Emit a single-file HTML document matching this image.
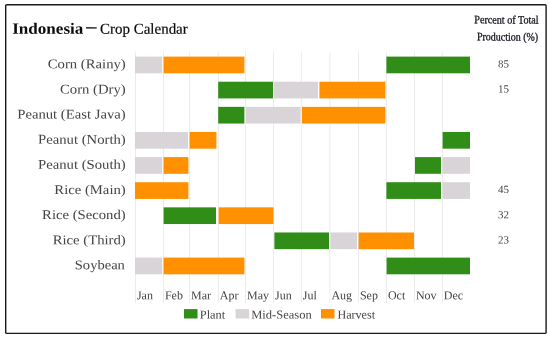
<!DOCTYPE html>
<html><head><meta charset="utf-8"><title>Indonesia - Crop Calendar</title>
<style>
html,body{margin:0;padding:0;background:#fff;}
body{width:550px;height:340px;overflow:hidden;position:relative;font-family:"Liberation Serif","Times New Roman",serif;}
svg{position:absolute;left:0;top:0;}
text{font-family:"Liberation Serif","Times New Roman",serif;}
</style></head><body>
<svg width="550" height="340" viewBox="0 0 550 340">
<rect x="0" y="0" width="550" height="340" fill="#fff"/>
<rect x="5.7" y="4.7" width="540.4" height="328.7" rx="1" fill="none" stroke="#1a1a1a" stroke-width="1.4"/>
<rect x="134.95" y="51.6" width="0.9" height="251.4" fill="#e9e9e9"/>
<rect x="162.95" y="51.6" width="0.9" height="251.4" fill="#e9e9e9"/>
<rect x="189.15" y="51.6" width="0.9" height="251.4" fill="#e9e9e9"/>
<rect x="217.85" y="51.6" width="0.9" height="251.4" fill="#e9e9e9"/>
<rect x="245.05" y="51.6" width="0.9" height="251.4" fill="#e9e9e9"/>
<rect x="273.15" y="51.6" width="0.9" height="251.4" fill="#e9e9e9"/>
<rect x="300.85" y="51.6" width="0.9" height="251.4" fill="#e9e9e9"/>
<rect x="329.45" y="51.6" width="0.9" height="251.4" fill="#e9e9e9"/>
<rect x="357.95" y="51.6" width="0.9" height="251.4" fill="#e9e9e9"/>
<rect x="385.95" y="51.6" width="0.9" height="251.4" fill="#e9e9e9"/>
<rect x="413.95" y="51.6" width="0.9" height="251.4" fill="#e9e9e9"/>
<rect x="441.85" y="51.6" width="0.9" height="251.4" fill="#e9e9e9"/>
<rect x="135.00" y="56.60" width="27.20" height="16.7" fill="#d8d4d7"/>
<rect x="163.60" y="56.60" width="80.80" height="16.7" fill="#ff9000"/>
<rect x="386.40" y="56.60" width="83.60" height="16.7" fill="#308e18"/>
<text transform="translate(125.70,68.30) rotate(0.03) scale(1.05,0.95)" font-size="14" fill="#444" text-anchor="end">Corn (Rainy)</text>
<text transform="translate(503.50,67.50) rotate(0.03)" font-size="11" fill="#444" text-anchor="middle">85</text>
<rect x="218.20" y="81.72" width="54.80" height="16.7" fill="#308e18"/>
<rect x="273.90" y="81.72" width="44.10" height="16.7" fill="#d8d4d7"/>
<rect x="319.40" y="81.72" width="66.00" height="16.7" fill="#ff9000"/>
<text transform="translate(125.70,93.42) rotate(0.03) scale(1.05,0.95)" font-size="14" fill="#444" text-anchor="end">Corn (Dry)</text>
<text transform="translate(503.50,92.62) rotate(0.03)" font-size="11" fill="#444" text-anchor="middle">15</text>
<rect x="218.20" y="106.85" width="26.20" height="16.7" fill="#308e18"/>
<rect x="246.00" y="106.85" width="54.60" height="16.7" fill="#d8d4d7"/>
<rect x="302.00" y="106.85" width="83.40" height="16.7" fill="#ff9000"/>
<text transform="translate(125.70,118.55) rotate(0.03) scale(1.05,0.95)" font-size="14" fill="#444" text-anchor="end">Peanut (East Java)</text>
<rect x="135.00" y="131.97" width="53.00" height="16.7" fill="#d8d4d7"/>
<rect x="189.60" y="131.97" width="26.80" height="16.7" fill="#ff9000"/>
<rect x="442.60" y="131.97" width="27.40" height="16.7" fill="#308e18"/>
<text transform="translate(125.70,143.67) rotate(0.03) scale(1.05,0.95)" font-size="14" fill="#444" text-anchor="end">Peanut (North)</text>
<rect x="135.00" y="157.10" width="27.20" height="16.7" fill="#d8d4d7"/>
<rect x="163.60" y="157.10" width="24.80" height="16.7" fill="#ff9000"/>
<rect x="415.00" y="157.10" width="26.00" height="16.7" fill="#308e18"/>
<rect x="442.40" y="157.10" width="27.60" height="16.7" fill="#d8d4d7"/>
<text transform="translate(125.70,168.80) rotate(0.03) scale(1.05,0.95)" font-size="14" fill="#444" text-anchor="end">Peanut (South)</text>
<rect x="135.00" y="182.22" width="53.40" height="16.7" fill="#ff9000"/>
<rect x="386.40" y="182.22" width="54.60" height="16.7" fill="#308e18"/>
<rect x="442.40" y="182.22" width="27.60" height="16.7" fill="#d8d4d7"/>
<text transform="translate(125.70,193.92) rotate(0.03) scale(1.05,0.95)" font-size="14" fill="#444" text-anchor="end">Rice (Main)</text>
<text transform="translate(503.50,193.12) rotate(0.03)" font-size="11" fill="#444" text-anchor="middle">45</text>
<rect x="163.60" y="207.35" width="52.40" height="16.7" fill="#308e18"/>
<rect x="218.60" y="207.35" width="54.80" height="16.7" fill="#ff9000"/>
<text transform="translate(125.70,219.05) rotate(0.03) scale(1.05,0.95)" font-size="14" fill="#444" text-anchor="end">Rice (Second)</text>
<text transform="translate(503.50,218.25) rotate(0.03)" font-size="11" fill="#444" text-anchor="middle">32</text>
<rect x="274.40" y="232.47" width="54.60" height="16.7" fill="#308e18"/>
<rect x="330.40" y="232.47" width="26.60" height="16.7" fill="#d8d4d7"/>
<rect x="358.60" y="232.47" width="55.40" height="16.7" fill="#ff9000"/>
<text transform="translate(125.70,244.17) rotate(0.03) scale(1.05,0.95)" font-size="14" fill="#444" text-anchor="end">Rice (Third)</text>
<text transform="translate(503.50,243.38) rotate(0.03)" font-size="11" fill="#444" text-anchor="middle">23</text>
<rect x="135.00" y="257.60" width="27.20" height="16.7" fill="#d8d4d7"/>
<rect x="163.60" y="257.60" width="80.80" height="16.7" fill="#ff9000"/>
<rect x="386.60" y="257.60" width="83.40" height="16.7" fill="#308e18"/>
<text transform="translate(124.90,269.30) rotate(0.03) scale(1.04,0.95)" font-size="14" fill="#444" text-anchor="end">Soybean</text>
<text transform="translate(136.90,299.30) rotate(0.03)" font-size="12" fill="#444">Jan</text>
<text transform="translate(164.90,299.30) rotate(0.03)" font-size="12" fill="#444">Feb</text>
<text transform="translate(191.10,299.30) rotate(0.03)" font-size="12" fill="#444">Mar</text>
<text transform="translate(219.80,299.30) rotate(0.03)" font-size="12" fill="#444">Apr</text>
<text transform="translate(247.00,299.30) rotate(0.03)" font-size="12" fill="#444">May</text>
<text transform="translate(275.10,299.30) rotate(0.03)" font-size="12" fill="#444">Jun</text>
<text transform="translate(302.80,299.30) rotate(0.03)" font-size="12" fill="#444">Jul</text>
<text transform="translate(331.40,299.30) rotate(0.03)" font-size="12" fill="#444">Aug</text>
<text transform="translate(359.90,299.30) rotate(0.03)" font-size="12" fill="#444">Sep</text>
<text transform="translate(387.90,299.30) rotate(0.03)" font-size="12" fill="#444">Oct</text>
<text transform="translate(415.90,299.30) rotate(0.03)" font-size="12" fill="#444">Nov</text>
<text transform="translate(443.80,299.30) rotate(0.03)" font-size="12" fill="#444">Dec</text>
<text transform="translate(12.20,33.80) rotate(0.03) scale(1.068,0.985)" font-size="16" fill="#0c0c0c" font-weight="bold">Indonesia</text>
<text transform="translate(86.50,31.60) rotate(0.03) scale(1.22,1.0)" font-size="16" fill="#2a2a2a" stroke="#2a2a2a" stroke-width="0.5">–</text>
<text transform="translate(100.10,33.75) rotate(0.03) scale(0.992,1)" font-size="15.1" fill="#0a0a0a" stroke="#0a0a0a" stroke-width="0.2">Crop Calendar</text>
<text transform="translate(538.60,23.40) rotate(0.03) scale(0.92,1.03)" font-size="11" fill="#15151f" stroke="#15151f" stroke-width="0.3" text-anchor="end">Percent of Total</text>
<text transform="translate(538.20,40.40) rotate(0.03) scale(0.908,1.03)" font-size="11" fill="#15151f" stroke="#15151f" stroke-width="0.3" text-anchor="end">Production (%)</text>
<rect x="184" y="309.1" width="13.5" height="9.4" fill="#308e18"/>
<text transform="translate(199.80,318.40) rotate(0.03) scale(1.03,1)" font-size="12" fill="#444">Plant</text>
<rect x="235.6" y="309.1" width="13.5" height="9.4" fill="#d8d4d7"/>
<text transform="translate(251.20,318.40) rotate(0.03) scale(1.045,1)" font-size="12" fill="#444">Mid-Season</text>
<rect x="321" y="309.1" width="13.5" height="9.4" fill="#ff9000"/>
<text transform="translate(337.40,318.40) rotate(0.03) scale(1.01,1)" font-size="12" fill="#444">Harvest</text>
</svg></body></html>
